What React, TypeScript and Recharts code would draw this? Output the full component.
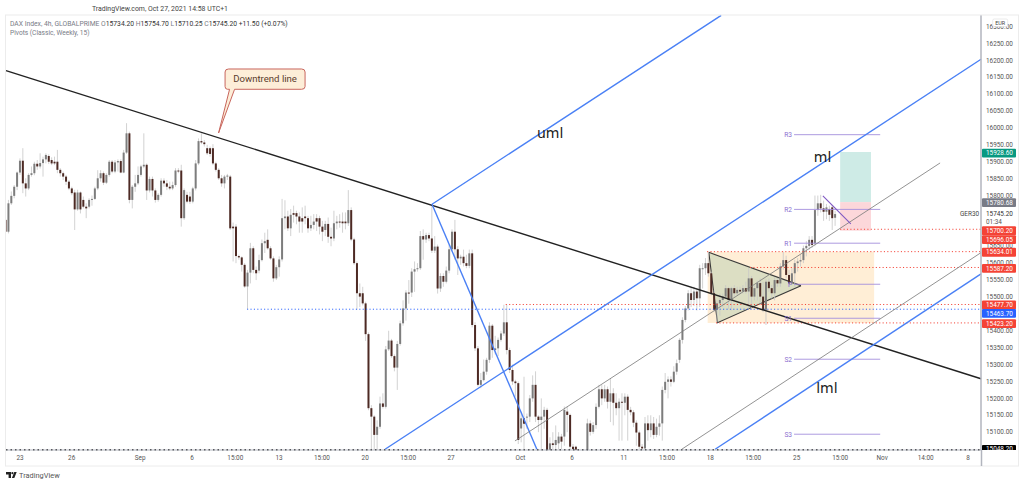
import React from "react";
import {
  ComposedChart, Bar, Area, XAxis, YAxis, ReferenceLine, ReferenceArea, ReferenceDot,
} from "recharts";

// DAX 4h candles
const opens = [
  15728,15693,15777,15799,15826,15868,15903,15836,15821,15861,
  15866,15894,15886,15896,15907,15917,15905,15900,15900,15876,
  15866,15856,15841,15821,15809,15759,15809,15787,15767,15767,
  15787,15790,15821,15851,15866,15838,15861,15900,15871,15898,
  15902,15868,15927,15984,15787,15826,15836,15861,15886,15891,
  15815,15849,15815,15787,15802,15844,15836,15826,15821,15831,
  15874,15874,15733,15802,15797,15782,15821,15895,15961,15957,
  15940,15940,15940,15895,15876,15851,15836,15856,15856,15708,
  15708,15621,15617,15595,15531,15572,15644,15580,15578,15609,
  15659,15669,15644,15614,15555,15588,15611,15733,15738,15703,
  15748,15748,15738,15733,15738,15733,15703,15713,15733,15733,
  15708,15698,15716,15678,15673,15718,15723,15723,15723,15718,
  15757,15670,15600,15511,15511,15481,15390,15171,15146,15092,
  15116,15185,15175,15345,15371,15325,15291,15361,15422,15466,
  15513,15513,15575,15582,15585,15680,15670,15683,15673,15637,
  15649,15525,15562,15545,15578,15641,15693,15641,15614,15619,
  15600,15592,15629,15417,15348,15240,15254,15279,15314,15415,
  15343,15348,15373,15392,15425,15343,15284,15250,15245,15111,
  15141,15144,15146,15200,15240,15146,15136,15146,15166,15047,
  15067,15062,15067,15087,15087,15161,15151,15057,15057,15040,
  15030,15025,15047,15126,15101,15121,15175,15227,15200,15227,
  15190,15215,15187,15171,15190,15187,15205,15166,15159,15128,
  15099,15057,15052,15126,15106,15126,15092,15116,15126,15225,
  15249,15256,15249,15279,15314,15373,15432,15466,15511,15491,
  15516,15496,15585,15585,15600,15570,15511,15462,15481,15491,
  15501,15526,15491,15526,15511,15521,15516,15526,15516,15555,
  15501,15526,15541,15501,15462,15545,15526,15511,15550,15540,
  15590,15609,15565,15540,15570,15600,15605,15609,15644,15651,
  15669,15658,15757,15777,15762,15752,15760,15765,15734.2,
];
const highs = [
  15752,15787,15812,15831,15871,15910,15940,15851,15866,15886,
  15900,15905,15925,15915,15925,15922,15913,15915,15935,15881,
  15871,15861,15846,15826,15817,15817,15812,15797,15777,15792,
  15800,15826,15875,15875,15871,15866,15905,15905,15905,15907,
  15907,15935,16014,15989,15831,15861,15886,15891,15984,15895,
  15856,15856,15821,15807,15851,15851,15846,15841,15841,15881,
  15881,15891,15821,15811,15811,15826,15905,15969,15984,15964,
  15950,15945,15952,15900,15881,15861,15861,15864,15861,15720,
  15715,15625,15620,15600,15580,15660,15650,15590,15625,15670,
  15690,15700,15650,15620,15595,15620,15790,15786,15755,15760,
  15770,15755,15750,15765,15770,15740,15740,15745,15745,15740,
  15725,15725,15735,15705,15755,15740,15745,15750,15750,15816,
  15765,15675,15605,15540,15530,15486,15395,15180,15150,15135,
  15205,15215,15355,15400,15376,15330,15370,15430,15490,15520,
  15550,15585,15605,15600,15695,15700,15690,15690,15775,15680,
  15655,15570,15570,15590,15655,15700,15728,15650,15625,15640,
  15625,15640,15640,15425,15355,15275,15315,15320,15425,15420,
  15385,15380,15400,15477,15477,15350,15300,15255,15250,15160,
  15264,15155,15210,15268,15280,15150,15200,15175,15172,15085,
  15100,15120,15100,15095,15176,15176,15155,15065,15060,15045,
  15038,15045,15140,15135,15130,15185,15240,15240,15240,15235,
  15260,15230,15215,15200,15215,15215,15212,15175,15165,15135,
  15105,15065,15145,15150,15150,15145,15140,15150,15235,15275,
  15265,15265,15295,15315,15378,15440,15473,15520,15530,15530,
  15525,15595,15600,15615,15634,15575,15520,15490,15510,15510,
  15535,15530,15530,15535,15530,15530,15535,15545,15585,15562,
  15535,15548,15555,15545,15552,15555,15535,15558,15556,15600,
  15634,15622,15580,15585,15610,15615,15625,15652,15665,15680,
  15680,15800,15800,15802,15785,15775,15770,15772,15754.7,
];
const lows = [
  15688,15688,15772,15792,15816,15861,15807,15797,15816,15856,
  15860,15876,15880,15856,15895,15893,15890,15890,15866,15856,
  15846,15831,15816,15801,15698,15755,15747,15762,15733,15762,
  15770,15787,15816,15841,15831,15834,15856,15866,15866,15871,
  15866,15866,15923,15777,15762,15811,15831,15856,15881,15787,
  15809,15797,15779,15782,15797,15826,15816,15816,15816,15826,
  15866,15708,15728,15777,15775,15777,15815,15890,15952,15945,
  15920,15915,15890,15871,15846,15826,15821,15846,15698,15605,
  15600,15610,15575,15527,15464,15540,15570,15550,15570,15605,
  15630,15640,15610,15545,15550,15560,15605,15700,15695,15680,
  15720,15715,15690,15690,15715,15690,15695,15700,15695,15685,
  15665,15680,15660,15650,15665,15700,15705,15690,15700,15710,
  15665,15595,15462,15470,15475,15370,15165,15050,15040,15040,
  15110,15170,15170,15340,15320,15280,15225,15356,15415,15430,
  15480,15500,15515,15575,15580,15610,15660,15665,15630,15630,
  15510,15515,15530,15540,15570,15635,15610,15565,15595,15590,
  15585,15585,15410,15340,15235,15230,15250,15270,15305,15320,
  15330,15325,15368,15385,15330,15275,15240,15205,15065,15070,
  15047,15110,15130,15190,15130,15100,15050,15110,15030,15030,
  15040,15040,15050,15050,15060,15100,15045,15040,15030,15020,
  15015,15015,15040,15090,15095,15110,15170,15180,15190,15170,
  15130,15120,15150,15075,15075,15150,15075,15150,15115,15060,
  15050,15045,15045,15075,15085,15080,15085,15090,15075,15215,
  15200,15235,15245,15270,15305,15362,15425,15460,15470,15473,
  15460,15470,15525,15565,15560,15505,15455,15425,15445,15470,
  15495,15465,15460,15500,15505,15508,15510,15510,15465,15462,
  15490,15490,15480,15455,15417,15515,15495,15490,15530,15530,
  15580,15555,15530,15535,15530,15575,15590,15600,15620,15640,
  15645,15650,15740,15750,15725,15730,15725,15698,15710.25,
];
const closes = [
  15693,15777,15799,15826,15868,15903,15836,15821,15861,15866,
  15894,15886,15896,15907,15920,15900,15895,15895,15876,15866,
  15856,15841,15821,15807,15759,15809,15759,15767,15762,15787,
  15790,15821,15851,15866,15838,15861,15900,15871,15898,15902,
  15868,15927,15984,15787,15826,15836,15861,15886,15891,15815,
  15849,15815,15787,15802,15844,15836,15826,15821,15831,15874,
  15871,15733,15816,15782,15782,15821,15895,15961,15957,15952,
  15925,15923,15895,15876,15851,15836,15856,15859,15703,15703,
  15621,15617,15595,15531,15572,15644,15580,15570,15609,15659,
  15665,15644,15614,15555,15588,15611,15733,15738,15703,15743,
  15743,15738,15723,15723,15733,15703,15713,15723,15723,15708,
  15693,15716,15678,15673,15718,15723,15720,15718,15718,15757,
  15670,15600,15511,15501,15481,15390,15171,15146,15092,15116,
  15185,15175,15345,15371,15325,15291,15361,15422,15466,15513,
  15510,15575,15582,15585,15680,15670,15683,15673,15637,15649,
  15525,15562,15545,15578,15641,15693,15641,15614,15619,15600,
  15592,15629,15417,15348,15240,15254,15279,15314,15415,15343,
  15348,15373,15392,15425,15343,15284,15250,15245,15077,15141,
  15125,15146,15200,15240,15146,15136,15146,15166,15047,15067,
  15062,15077,15087,15072,15166,15151,15057,15050,15040,15030,
  15025,15040,15126,15101,15121,15175,15227,15200,15227,15190,
  15215,15187,15171,15190,15187,15205,15166,15159,15128,15099,
  15057,15052,15126,15106,15126,15092,15116,15126,15225,15249,
  15256,15249,15279,15304,15373,15432,15466,15511,15491,15516,
  15496,15585,15585,15600,15570,15511,15462,15481,15491,15501,
  15526,15491,15526,15511,15521,15516,15526,15516,15555,15501,
  15526,15541,15501,15462,15545,15526,15511,15550,15540,15590,
  15609,15565,15540,15570,15600,15605,15609,15644,15651,15669,
  15654,15757,15777,15762,15752,15765,15743,15733,15745.2,
];

// time axis: bar index of each label
const timeTicks = [4.9,22.8,46.6,64.6,79.6,94.8,109.7,124.7,139.6,154.5,178.6,196.5,214.5,229.5,244.5,259.4,274.5,289.6,304.2,319.3,334];
const timeLabels = ["23","26","Sep","6","15:00","13","15:00","20","15:00","27","Oct","6","11","15:00","18","15:00","25","15:00","Nov","14:00","8"];

// 15750 sits under the live price label in the picture
const priceTicks = [16300,16250,16200,16150,16100,16050,16000,15950,15900,15850,15800,15700,15650,15600,15550,15500,15450,15400,15350,15300,15250,15200,15150,15100];

// coloured price tags on the right axis
const tagPrices = [15928.6,15780.68,15700.2,15696.05,15634.01,15587.2,15477.7,15463.7,15423.2,15048.2];
const tagColors = ["#089981","#787b86","#f44336","#f44336","#f44336","#f44336","#f44336","#2962ff","#f44336","#000000"];
const tagShift = [1,0.6,1.5,9,0.6,1,0.5,4.2,0.8,0];

// drawn lines: [i1, p1, i2, p2]
const downtrend = [0,16169.5,338.5,15258];
const uml = [147.9,15774.3,248.3,16333];
const ml = [131.6,15049.5,338.5,16203.2];
const lml = [246.2,15049.5,338.5,15568.1];
const upperGray = [176.7,15074.1,324.3,15896.4];
const lowerGray = [234.6,15049.5,338.5,15631.1];
const steepBlue = [147.9,15774.3,184.3,15049.5];
const flagLine = [283.6,15798.8,293.3,15716];

// pivots
const pivotNames = ["R3","R2","R1","P","S1","S2","S3"];
const pivotPrices = [15980,15759,15659,15537.6,15437,15315.8,15094];
const pivotStart = 273.6;
const pivotEnd = 303.5;

// horizontal dotted levels: price, first bar
const redLevels = [15700.2,15634.01,15587.2,15477.7,15423.2];
const redStarts = [289.6,243.4,258.3,173.5,246.5];
const blueLevel = 15463.7;
const blueStart = 83.7;
const blackLevel = 15048.2;

// triangle: bar, lower edge, upper edge
const triBars = [244,247,276];
const triLower = [15632,15424,15533.5];
const triUpper = [15632,15622.5,15533.5];

const candles = opens.map((o, i) => ({ i, o, h: highs[i], l: lows[i], c: closes[i] }));
const triangle = triBars.map((i, k) => ({ i, range: [triLower[k], triUpper[k]] }));

const FONT = "Roboto, sans-serif";
const TICK_COLOR = "#555";
const BLUE = "#4a80f5";
const PURPLE = "#a48fdc";
const YMIN = 15047.3;
const YMAX = 16334;
const XMAX = 338.5;

const Candle = (props: any) => {
  const { x, y, width, height, payload } = props;
  const cx = x + width / 2;
  const k = height / (payload.h - payload.l || 1);
  const top = y + (payload.h - Math.max(payload.o, payload.c)) * k;
  const bh = Math.max(Math.abs(payload.o - payload.c) * k, 1);
  const up = payload.c >= payload.o;
  return (
    <g>
      <line x1={cx} x2={cx} y1={y} y2={y + height} stroke="#c6c6c6" strokeWidth={0.8} />
      <rect x={cx - 1} y={top} width={2} height={bh} fill={up ? "#7d7d7d" : "#4d2a24"} />
    </g>
  );
};

const PriceTick = (props: any) => {
  const { x, y, payload } = props;
  const k = tagPrices.indexOf(payload.value);
  if (payload.value === 15745.2) {
    return (
      <g fontFamily={FONT} fontSize={6.4} fill="#333">
        <rect x={x - 3} y={y - 4} width={36} height={11} fill="#fff" />
        <text x={x - 26} y={y + 2.2} fill="#444">GER30</text>
        <text x={x} y={y + 2.2}>15745.20</text>
        <text x={x} y={y + 9.8} fill="#555">01:34</text>
      </g>
    );
  }
  if (k === -1) {
    return <text x={x} y={y + 2.2} fontFamily={FONT} fontSize={6.4} fill={TICK_COLOR}>{payload.value.toFixed(2)}</text>;
  }
  if (payload.value === blackLevel) {
    return (
      <svg x={x - 4} y={y - 4.7} width={34} height={5}>
        <rect x={0} y={0} width={34} height={9} rx={1} fill="#000" />
        <text x={4} y={6.5} fontFamily={FONT} fontSize={6.4} fill="#fff">{payload.value.toFixed(2)}</text>
      </svg>
    );
  }
  const cy = y + tagShift[k];
  return (
    <g>
      <rect x={x - 4} y={cy - 4.4} width={34} height={8.8} rx={1} fill={tagColors[k]} />
      <text x={x} y={cy + 2.2} fontFamily={FONT} fontSize={6.4} fill="#fff">{payload.value.toFixed(2)}</text>
    </g>
  );
};

const TimeTick = (props: any) => {
  const { x, y, payload } = props;
  const label = timeLabels[timeTicks.indexOf(payload.value)];
  return <text x={x} y={y + 2} textAnchor="middle" fontFamily={FONT} fontSize={6.4} fill={TICK_COLOR}>{label}</text>;
};

const Callout = ({ cx, cy }: any) => {
  const dx = cx;
  const dy = cy;
  const d = `M${dx} ${dy} L${dx + 11} ${dy - 43.7} L${dx + 9} ${dy - 43.7} Q${dx + 6.5} ${dy - 43.7} ${dx + 6.5} ${dy - 46.5}
    L${dx + 6.5} ${dy - 61} Q${dx + 6.5} ${dy - 64} ${dx + 10} ${dy - 64} L${dx + 83} ${dy - 64} Q${dx + 86.5} ${dy - 64} ${dx + 86.5} ${dy - 61}
    L${dx + 86.5} ${dy - 46.5} Q${dx + 86.5} ${dy - 43.7} ${dx + 83} ${dy - 43.7} L${dx + 16} ${dy - 43.7} Z`;
  return (
    <g>
      <path d={d} fill="#fdeed8" stroke="#c8665e" strokeWidth={1} />
      <text x={dx + 46.5} y={dy - 50.7} textAnchor="middle" fontFamily={FONT} fontSize={9.6} fill="#5a3c2c">Downtrend line</text>
    </g>
  );
};

const bigLabel = (value: string) => ({ cx, cy }: any) => (
  <text x={cx} y={cy + 5} textAnchor="middle" fontFamily="DejaVu Sans" fontSize={14} fill="#1a1a1a">{value}</text>
);
const pivotLabel = (value: string) => ({ cx, cy }: any) => (
  <text x={cx - 2} y={cy + 2.3} textAnchor="end" fontFamily={FONT} fontSize={6.6} fill="#8a6fd0">{value}</text>
);

const seg = (s: number[], color: string, width: number, key: string) => (
  <ReferenceLine
    key={key}
    segment={[{ x: s[0], y: s[1] }, { x: s[2], y: s[3] }]}
    stroke={color}
    strokeWidth={width}
    ifOverflow="visible"
  />
);

const level = (p: number, start: number, color: string, key: string, width = 1, dash = "1.1 2.3") => (
  <ReferenceLine
    key={key}
    segment={[{ x: start, y: p }, { x: XMAX, y: p }]}
    stroke={color}
    strokeWidth={width}
    strokeDasharray={dash}
    ifOverflow="visible"
  />
);

export default function App() {
  return (
    <div style={{ position: "absolute", left: 0, top: 0, width: 1024, height: 485, background: "#fff", overflow: "hidden" }}>
      <ComposedChart
        width={1024}
        height={485}
        data={candles}
        margin={{ top: 15, right: 0, bottom: 0, left: 6 }}
      >
        <XAxis
          dataKey="i"
          type="number"
          domain={[0, XMAX]}
          allowDataOverflow
          ticks={timeTicks}
          interval={0}
          tick={TimeTick}
          tickLine={false}
          axisLine={{ stroke: "#b2b5be" }}
          height={35}
        />
        <YAxis
          orientation="right"
          domain={[YMIN, YMAX]}
          allowDataOverflow
          ticks={[...priceTicks, 15745.2, ...tagPrices]}
          interval={0}
          tick={PriceTick}
          tickLine={false}
          tickSize={0}
          tickMargin={5}
          axisLine={{ stroke: "#b2b5be", strokeWidth: 1.5 }}
          width={43}
        />

        <ReferenceArea x1={243.6} x2={301.4} y1={15423.2} y2={15634.01} fill="#ff9800" fillOpacity={0.16} stroke="none" />
        <ReferenceArea x1={289.6} x2={300.3} y1={15780.68} y2={15928.6} fill="#089981" fillOpacity={0.2} stroke="none" />
        <ReferenceArea x1={289.6} x2={300.3} y1={15696.05} y2={15780.68} fill="#f23645" fillOpacity={0.2} stroke="none" />

        <Area
          data={triangle}
          dataKey="range"
          type="linear"
          fill="#4f9e78"
          fillOpacity={0.2}
          stroke="#3a3a3a"
          strokeWidth={1.1}
          dot={false}
          activeDot={false}
          isAnimationActive={false}
        />

        <Bar dataKey={(d: any) => [d.l, d.h]} barSize={2} shape={Candle} isAnimationActive={false} />

        {redLevels.map((p, k) => level(p, redStarts[k], "#f44336", "red" + k))}
        {level(blueLevel, blueStart, "#2962ff", "blue")}
        {level(blackLevel, 0, "#000", "black", 1.5, "1.5 3")}

        {pivotPrices.map((p, k) => seg([pivotStart, p, pivotEnd, p], PURPLE, 0.9, "piv" + k))}
        {pivotPrices.map((p, k) => (
          <ReferenceDot key={"pl" + k} x={pivotStart} y={p} r={0} shape={pivotLabel(pivotNames[k])} />
        ))}

        {seg(downtrend, "#222", 1.4, "down")}
        {seg(uml, BLUE, 1.4, "uml")}
        {seg(ml, BLUE, 1.4, "ml")}
        {seg(lml, BLUE, 1.4, "lml")}
        {seg(steepBlue, BLUE, 1.4, "steep")}
        {seg(upperGray, "#777", 0.8, "ug")}
        {seg(lowerGray, "#777", 0.8, "lg")}
        {seg(flagLine, "#7e57c2", 1.1, "flag")}

        <ReferenceDot x={73.8} y={15985} r={0} shape={Callout} />
        <ReferenceDot x={188.9} y={15985} r={0} shape={bigLabel("uml")} />
        <ReferenceDot x={283.5} y={15915} r={0} shape={bigLabel("ml")} />
        <ReferenceDot x={285} y={15231} r={0} shape={bigLabel("lml")} />
      </ComposedChart>

      <svg width={1024} height={485} style={{ position: "absolute", left: 0, top: 0, pointerEvents: "none" }}>
        <rect x={5.5} y={15} width={1013} height={451} fill="none" stroke="#ececec" />
        <line x1={981.5} x2={981.5} y1={450} y2={466} stroke="#b2b5be" strokeWidth={1.5} />
        <text x={92} y={10.5} fontFamily={FONT} fontSize={6.9} fill="#444">TradingView.com, Oct 27, 2021 14:58 UTC+1</text>
        <text x={10} y={25.5} fontFamily={FONT} fontSize={6.75} fill="#787b86">
          DAX Index, 4h, GLOBALPRIME{"  "}
          O<tspan fill="#333">15734.20</tspan> H<tspan fill="#333">15754.70</tspan> L<tspan fill="#333">15710.25</tspan> C<tspan fill="#333">15745.20</tspan> <tspan fill="#333">+11.50 (+0.07%)</tspan>
        </text>
        <text x={10} y={35} fontFamily={FONT} fontSize={6.6} fill="#787b86">Pivots (Classic, Weekly, 15)</text>
        <rect x={992.7} y={19} width={15} height={7.5} rx={1.5} fill="#fff" stroke="#ddd" strokeWidth={0.6} />
        <text x={1000.2} y={25} textAnchor="middle" fontFamily={FONT} fontSize={5.4} fill="#444">EUR</text>
        <path d="M6 472h5v6H8.6v-3.6H6z M14.3 472h2.4l-2.4 6h-2.4z" fill="#222" />
        <circle cx={12.4} cy={473.2} r={1.1} fill="#222" />
        <text x={19} y={477.6} fontFamily={FONT} fontSize={7.4} fill="#555">TradingView</text>
      </svg>
    </div>
  );
}
